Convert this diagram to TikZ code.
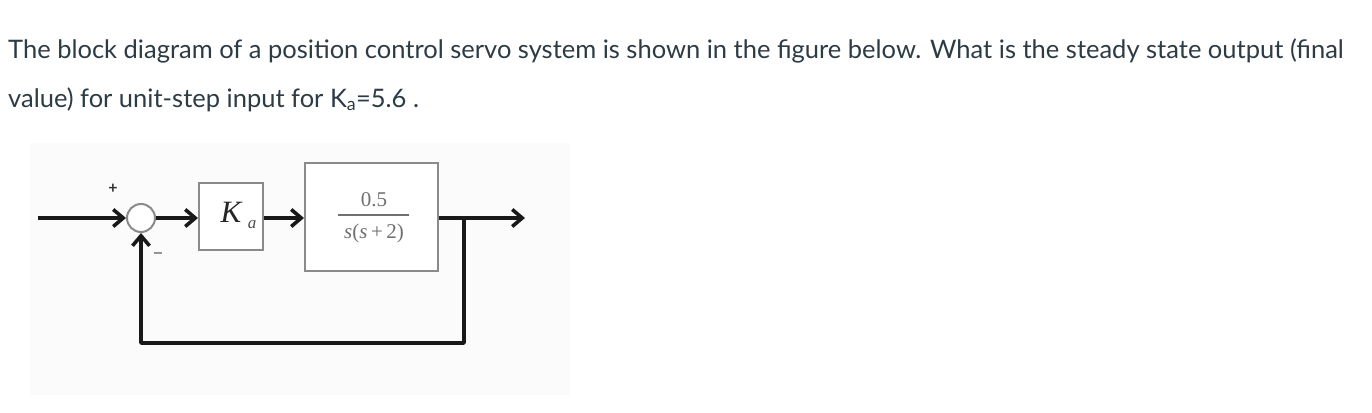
\documentclass[tikz,border=0pt]{standalone}
\usepackage{fontspec}
\setmainfont{Lato}
\newfontfamily\tms{Liberation Serif}
\usetikzlibrary{arrows.meta}
\definecolor{txt}{HTML}{2D3B45}
\definecolor{boxc}{HTML}{8A8A8A}
\definecolor{fracc}{HTML}{707070}
\definecolor{bgc}{HTML}{FBFBFB}
\begin{document}
\begin{tikzpicture}[x=1pt,y=-1pt,
  sig/.style={line width=3.6pt,black!90},
  arr/.style={sig,-{Straight Barb[length=10pt,width=17pt,line width=3.6pt]}},
  blk/.style={draw=boxc,line width=2pt,fill=white,inner sep=0pt},
  qtext/.style={font=\fontsize{25.5}{30}\selectfont,text=txt,anchor=base west,inner sep=0pt}]
\useasboundingbox (0,0) rectangle (1372,412);
\fill[white] (0,0) rectangle (1372,412);
\fill[bgc] (30,143) rectangle (570,395);
% question text
\node[qtext] (l1) at (8,59) {The block diagram of a position control servo system is shown in the figure below. What is the steady state output (final};
\node[qtext] (l2) at (8,107) {value) for unit-step input for K\textsubscript{a}=5.6 .};
% blocks
\node[blk,circle,minimum size=28pt] (sum) at (141,218) {};
\node[blk,minimum width=64pt,minimum height=67pt] (ka) at (231,216.5) {};
\node[font=\tms\itshape\fontsize{31}{31}\selectfont,text=black!85] (kt) at (231,212) {K};
\node[font=\tms\itshape\fontsize{17}{17}\selectfont,text=black!70] (kst) at (252,225) {a};
\node[blk,minimum width=133pt,minimum height=108pt] (g) at (371.5,217) {};
\node[font=\tms\fontsize{21}{21}\selectfont,text=fracc] (num) at (374,200) {0.5};
\node[font=\tms\fontsize{21}{21}\selectfont,text=fracc] (den) at (374,233) {\textit{s}(\textit{s}\,+\,2)};
\coordinate (bl) at (338,215);
\coordinate (br) at (409,215);
\draw[fracc,line width=1.6pt] (bl) -- (br);
% signs
\node[font=\fontsize{16}{16}\selectfont\bfseries,text=black!80] (plus) at (113,189) {+};
\node[font=\fontsize{18}{18}\selectfont\bfseries,text=black!50] (minus) at (158,256) {\char"2212};
% connectors
\coordinate (in) at (38,218);
\coordinate (out) at (525,218);
\coordinate (br1) at (464,218);
\coordinate (br2) at (464,343);
\coordinate (br3) at (141,343);
\draw[arr] (in) -- (sum.west);
\draw[arr] (sum.east) -- (ka.west |- sum.east);
\draw[arr] (ka.east |- sum.east) -- (g.west |- sum.east);
\draw[arr] (g.east |- sum.east) -- (out);
\draw[arr,line join=round] (br1) -- (br2) -- (br3) -- (sum.south);
\end{tikzpicture}
\end{document}
